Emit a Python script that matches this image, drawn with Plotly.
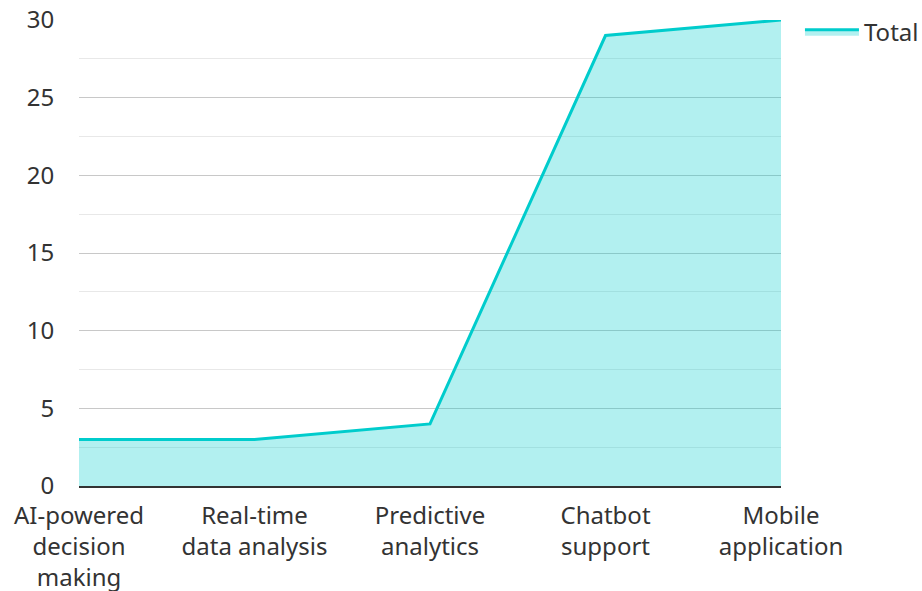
import plotly.graph_objects as go

categories = ["AI-powered<br>decision<br>making", "Real-time<br>data analysis",
              "Predictive<br>analytics", "Chatbot<br>support", "Mobile<br>application"]
values = [3, 3, 4, 29, 30]
series_name = "Total"

fig = go.Figure()
fig.add_trace(go.Scatter(
    x=list(range(len(categories))), y=values, name=series_name,
    mode="lines", fill="tozeroy",
    line=dict(color="#00CCCC", width=3),
    fillcolor="rgba(0,204,204,0.3)",
))

fig.update_layout(
    width=934, height=591,
    margin=dict(l=79, r=153, t=20, b=105, autoexpand=False),
    paper_bgcolor="white", plot_bgcolor="white",
    font=dict(family="Noto Sans", size=24, color="#333333"),
    showlegend=True,
    legend=dict(x=1.027, xanchor="left", y=1.022, yanchor="top",
                font=dict(size=24, color="#333333"), itemwidth=54,
                bgcolor="rgba(0,0,0,0)"),
    xaxis=dict(
        tickmode="array", tickvals=list(range(len(categories))), ticktext=categories,
        range=[0, len(categories) - 1], showgrid=False, zeroline=False,
        showline=True, linecolor="#333333", linewidth=2,
        ticks="outside", ticklen=7, tickcolor="rgba(0,0,0,0)",
        tickfont=dict(size=24, color="#333333"), ticklabeloverflow="allow",
    ),
    yaxis=dict(
        range=[0, 30], dtick=5, showgrid=True, gridcolor="#C8C8C8", gridwidth=1,
        minor=dict(dtick=2.5, showgrid=True, gridcolor="#E8E8E8", gridwidth=1),
        zeroline=False, showline=False,
        ticks="outside", ticklen=19, tickcolor="rgba(0,0,0,0)",
        tickfont=dict(size=24, color="#333333"), ticklabeloverflow="allow",
    ),
)

fig.write_html(
    "out.html",
    config={"displayModeBar": False},
    post_script="document.body.style.margin='0';"
                "document.documentElement.style.overflow='hidden';",
)
